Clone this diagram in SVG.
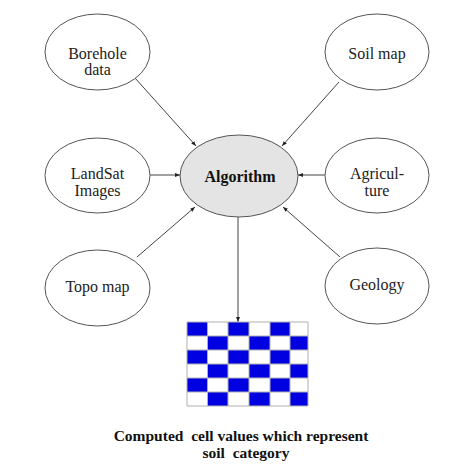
<svg xmlns="http://www.w3.org/2000/svg" width="474" height="474" viewBox="0 0 474 474">
<style>
.node{fill:#fff;stroke:#555;stroke-width:1}
.algo{fill:#e4e4e4;stroke:#555;stroke-width:1}
.lbl{font-family:"Liberation Serif",serif;font-size:16px;fill:#222;text-anchor:middle}
.bold{font-weight:bold;fill:#111}
.conn{stroke:#444;stroke-width:1;fill:none;marker-end:url(#arr)}
.blue{fill:#0000e0}
.grid{stroke:#b0b0b0;stroke-width:1;fill:none}
</style>
<defs>
<marker id="arr" viewBox="0 0 10 10" refX="10" refY="5" markerWidth="5" markerHeight="5" markerUnits="userSpaceOnUse" orient="auto">
<path d="M0,1 L10,5 L0,9 z" fill="#222"/>
</marker>
</defs>
<rect width="474" height="474" fill="#fff"/>
<g id="connectors">
<line class="conn" x1="135" y1="78" x2="196" y2="146"/>
<line class="conn" x1="339" y1="82" x2="282" y2="146"/>
<line class="conn" x1="150" y1="175" x2="180" y2="175"/>
<line class="conn" x1="325" y1="175" x2="298" y2="175"/>
<line class="conn" x1="137" y1="257" x2="195" y2="207"/>
<line class="conn" x1="340" y1="257" x2="283" y2="207"/>
<line class="conn" x1="238" y1="217" x2="238" y2="322"/>
</g>
<g id="borehole">
<ellipse class="node" cx="97.5" cy="52" rx="52.5" ry="38"/>
<text class="lbl" x="97.5" y="59">Borehole</text>
<text class="lbl" x="97.5" y="75">data</text>
</g>
<g id="soilmap">
<ellipse class="node" cx="377" cy="52" rx="52" ry="38"/>
<text class="lbl" x="377" y="59">Soil map</text>
</g>
<g id="landsat">
<ellipse class="node" cx="97.5" cy="175.5" rx="52.5" ry="37.5"/>
<text class="lbl" x="97.5" y="179">LandSat</text>
<text class="lbl" x="97.5" y="196">Images</text>
</g>
<g id="algorithm">
<ellipse class="algo" cx="239" cy="176" rx="59" ry="41"/>
<text class="lbl bold" x="240" y="182">Algorithm</text>
</g>
<g id="agriculture">
<ellipse class="node" cx="377" cy="175.5" rx="52" ry="37.5"/>
<text class="lbl" x="377" y="179">Agricul-</text>
<text class="lbl" x="377" y="196">ture</text>
</g>
<g id="topomap">
<ellipse class="node" cx="97.5" cy="288" rx="52.5" ry="38"/>
<text class="lbl" x="97.5" y="292">Topo map</text>
</g>
<g id="geology">
<ellipse class="node" cx="377" cy="286" rx="52" ry="38"/>
<text class="lbl" x="377" y="290">Geology</text>
</g>
<g id="grid">
<rect x="187" y="322" width="121" height="84" fill="#fff"/>
<g class="blue">
<rect x="187" y="322" width="20.5" height="14"/>
<rect x="228" y="322" width="21" height="14"/>
<rect x="270" y="322" width="20" height="14"/>
<rect x="207.5" y="336" width="20.5" height="14"/>
<rect x="249" y="336" width="21" height="14"/>
<rect x="290" y="336" width="18" height="14"/>
<rect x="187" y="350" width="20.5" height="14"/>
<rect x="228" y="350" width="21" height="14"/>
<rect x="270" y="350" width="20" height="14"/>
<rect x="207.5" y="364" width="20.5" height="14"/>
<rect x="249" y="364" width="21" height="14"/>
<rect x="290" y="364" width="18" height="14"/>
<rect x="187" y="378" width="20.5" height="14"/>
<rect x="228" y="378" width="21" height="14"/>
<rect x="270" y="378" width="20" height="14"/>
<rect x="207.5" y="392" width="20.5" height="14"/>
<rect x="249" y="392" width="21" height="14"/>
<rect x="290" y="392" width="18" height="14"/>
</g>
<path class="grid" d="M187,322H308V406H187Z M207.5,322V406 M228,322V406 M249,322V406 M270,322V406 M290,322V406 M187,336H308 M187,350H308 M187,364H308 M187,378H308 M187,392H308"/>
</g>
<g id="caption">
<text class="lbl bold" x="241" y="441" font-size="15.5" xml:space="preserve" style="font-size:15.5px">Computed  cell values which represent</text>
<text class="lbl bold" x="246" y="458" xml:space="preserve" style="font-size:15.5px">soil  category</text>
</g>
</svg>
